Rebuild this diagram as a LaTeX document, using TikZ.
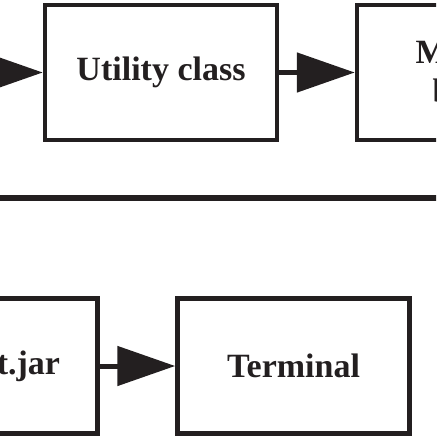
\documentclass[tikz,border=0pt]{standalone}
\usepackage{fontspec}
\setmainfont{Liberation Serif}
\usetikzlibrary{arrows.meta}
\definecolor{ink}{HTML}{231F20}
\tikzset{
  blockbox/.style={draw=ink, line width=4.5pt, rectangle, minimum width=232pt, minimum height=135pt,
    align=center, text=ink, font=\fontsize{34}{39}\selectfont\bfseries, inner sep=0pt},
  flow/.style={draw=ink, line width=5pt, -{Triangle[length=58pt,width=39pt]}}
}
\begin{document}
\begin{tikzpicture}[x=1pt,y=-1pt]
\useasboundingbox (0,0) rectangle (436,436);
\clip (0,0) rectangle (436,436);
% top row
\coordinate (in) at (-40,72.5);
\node[blockbox] (util) at (161,72.5) {Utility class};
\node[blockbox, minimum width=242pt] (mem) at (478,72.5) {Memory\\buffer};
\draw[flow] (in) -- (util.west);
\draw[flow] (util.east) -- (mem.west);
% separator
\coordinate (sepL) at (-5,198);
\coordinate (sepR) at (441,198);
\draw[ink, line width=6pt] (sepL) -- (sepR);
% bottom row
\node[blockbox] (jar) at (-18.5,366) {Project.jar};
\node[blockbox] (term) at (293.5,366) {Terminal};
\draw[flow] (jar.east) -- (term.west);
\end{tikzpicture}
\end{document}
